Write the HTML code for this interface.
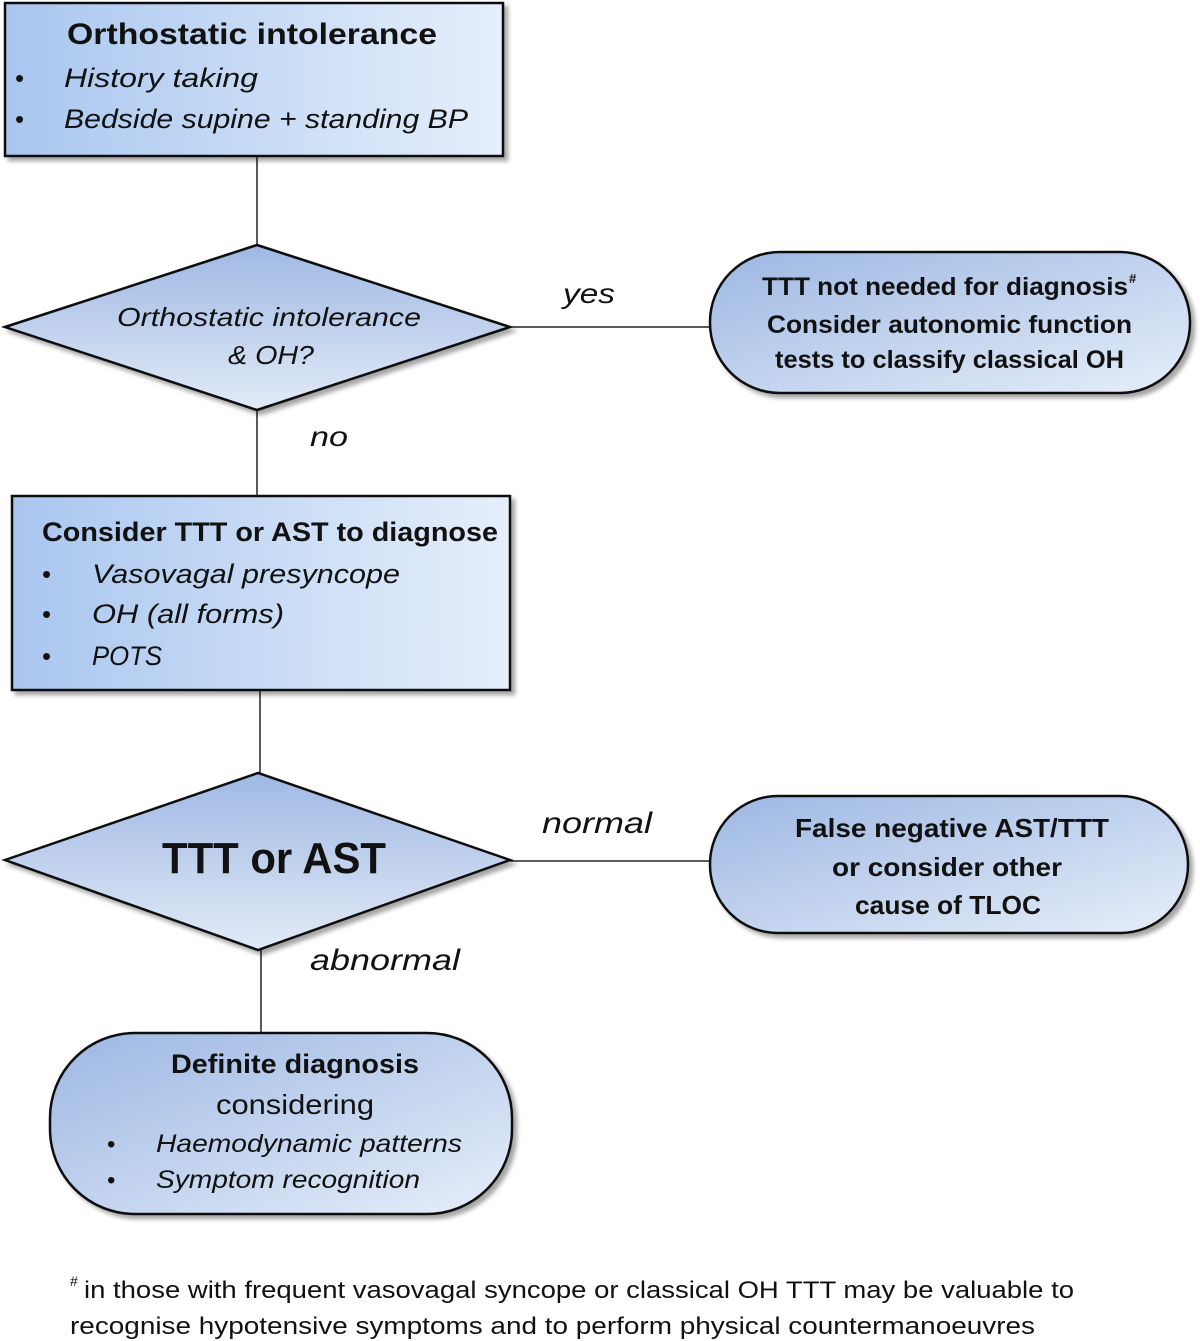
<!DOCTYPE html>
<html><head><meta charset="utf-8"><style>html,body{margin:0;padding:0;background:#fff}svg{display:block}</style></head>
<body>
<svg width="1200" height="1341" viewBox="0 0 1200 1341" xmlns="http://www.w3.org/2000/svg" font-family="Liberation Sans, sans-serif" fill="#111">
<defs>
<linearGradient id="gh" x1="0" y1="0" x2="1" y2="0"><stop offset="0" stop-color="#a9c6ef"/><stop offset="1" stop-color="#e6effb"/></linearGradient>
<linearGradient id="gv" x1="0" y1="0" x2="0" y2="1"><stop offset="0" stop-color="#9fb8e3"/><stop offset="1" stop-color="#e2eaf7"/></linearGradient>
<linearGradient id="gd" x1="0" y1="0" x2="1" y2="1"><stop offset="0" stop-color="#9db7e3"/><stop offset="1" stop-color="#e6eef9"/></linearGradient>
<filter id="sh" x="-5%" y="-5%" width="115%" height="120%"><feDropShadow dx="4" dy="4" stdDeviation="2" flood-color="#000" flood-opacity="0.35"/></filter>
</defs>
<g stroke="#222" stroke-width="1.5">
<line x1="257" y1="156" x2="257" y2="245"/>
<line x1="510" y1="327" x2="710" y2="327"/>
<line x1="257" y1="410" x2="257" y2="496"/>
<line x1="260" y1="690" x2="260" y2="773"/>
<line x1="510" y1="861" x2="710" y2="861"/>
<line x1="261" y1="950" x2="261" y2="1033"/>
</g>
<g stroke="#111" stroke-width="2.5" filter="url(#sh)">
<rect x="5" y="3" width="498" height="153" fill="url(#gh)"/>
<rect x="12" y="496" width="498" height="194" fill="url(#gh)"/>
<polygon points="5,327 257,245 510,327 257,410" fill="url(#gv)"/>
<polygon points="5,860 258,773 510,860 258,950" fill="url(#gv)"/>
<rect x="710" y="252" width="480" height="141" rx="70" fill="url(#gd)"/>
<rect x="710" y="796" width="478" height="137" rx="68" fill="url(#gd)"/>
<rect x="50" y="1033" width="462" height="181" rx="85" fill="url(#gd)"/>
</g>
<text x="67" y="44" font-size="30" font-weight="bold" textLength="370" lengthAdjust="spacingAndGlyphs">Orthostatic intolerance</text>
<text x="15" y="87" font-size="26">•</text>
<text x="64" y="87" font-size="27" font-style="italic" textLength="194" lengthAdjust="spacingAndGlyphs">History taking</text>
<text x="15" y="128" font-size="26">•</text>
<text x="64" y="128" font-size="27" font-style="italic" textLength="404" lengthAdjust="spacingAndGlyphs">Bedside supine + standing BP</text>
<text x="117" y="326" font-size="26" font-style="italic" textLength="304" lengthAdjust="spacingAndGlyphs">Orthostatic intolerance</text>
<text x="228" y="364" font-size="26" font-style="italic" textLength="86" lengthAdjust="spacingAndGlyphs">&amp; OH?</text>
<text x="563" y="303" font-size="28" font-style="italic" textLength="52" lengthAdjust="spacingAndGlyphs">yes</text>
<text x="762" y="295" font-size="25" font-weight="bold" textLength="366" lengthAdjust="spacingAndGlyphs">TTT not needed for diagnosis</text>
<text x="1129" y="283" font-size="13" font-weight="bold">#</text>
<text x="767" y="333" font-size="25" font-weight="bold" textLength="365" lengthAdjust="spacingAndGlyphs">Consider autonomic function</text>
<text x="775" y="368" font-size="25" font-weight="bold" textLength="349" lengthAdjust="spacingAndGlyphs">tests to classify classical OH</text>
<text x="310" y="446" font-size="28" font-style="italic" textLength="38" lengthAdjust="spacingAndGlyphs">no</text>
<text x="42" y="541" font-size="27" font-weight="bold" textLength="456" lengthAdjust="spacingAndGlyphs">Consider  TTT  or AST to diagnose</text>
<text x="42" y="583" font-size="26">•</text>
<text x="92" y="583" font-size="27" font-style="italic" textLength="308" lengthAdjust="spacingAndGlyphs">Vasovagal presyncope</text>
<text x="42" y="623" font-size="26">•</text>
<text x="92" y="623" font-size="27" font-style="italic" textLength="192" lengthAdjust="spacingAndGlyphs">OH (all forms)</text>
<text x="42" y="665" font-size="26">•</text>
<text x="92" y="665" font-size="27" font-style="italic" textLength="70" lengthAdjust="spacingAndGlyphs">POTS</text>
<text x="162" y="873" font-size="44" font-weight="bold" textLength="224" lengthAdjust="spacingAndGlyphs">TTT or AST</text>
<text x="542" y="833" font-size="30" font-style="italic" textLength="110" lengthAdjust="spacingAndGlyphs">normal</text>
<text x="795" y="837" font-size="26" font-weight="bold" textLength="314" lengthAdjust="spacingAndGlyphs">False negative  AST/TTT</text>
<text x="832" y="876" font-size="26" font-weight="bold" textLength="230" lengthAdjust="spacingAndGlyphs">or consider other</text>
<text x="855" y="914" font-size="26" font-weight="bold" textLength="186" lengthAdjust="spacingAndGlyphs">cause of TLOC</text>
<text x="310" y="970" font-size="30" font-style="italic" textLength="150" lengthAdjust="spacingAndGlyphs">abnormal</text>
<text x="171" y="1073" font-size="27" font-weight="bold" textLength="248" lengthAdjust="spacingAndGlyphs">Definite diagnosis</text>
<text x="216" y="1114" font-size="28" textLength="158" lengthAdjust="spacingAndGlyphs">considering</text>
<text x="107" y="1152" font-size="24">•</text>
<text x="156" y="1152" font-size="25" font-style="italic" textLength="306" lengthAdjust="spacingAndGlyphs">Haemodynamic patterns</text>
<text x="107" y="1188" font-size="24">•</text>
<text x="156" y="1188" font-size="25" font-style="italic" textLength="264" lengthAdjust="spacingAndGlyphs">Symptom recognition</text>
<text x="70" y="1286" font-size="14">#</text>
<text x="84" y="1298" font-size="24" textLength="990" lengthAdjust="spacingAndGlyphs">in those with frequent vasovagal syncope or classical OH TTT may be valuable  to</text>
<text x="70" y="1334" font-size="24" textLength="965" lengthAdjust="spacingAndGlyphs">recognise hypotensive symptoms and to perform physical countermanoeuvres</text>
</svg>
</body></html>
